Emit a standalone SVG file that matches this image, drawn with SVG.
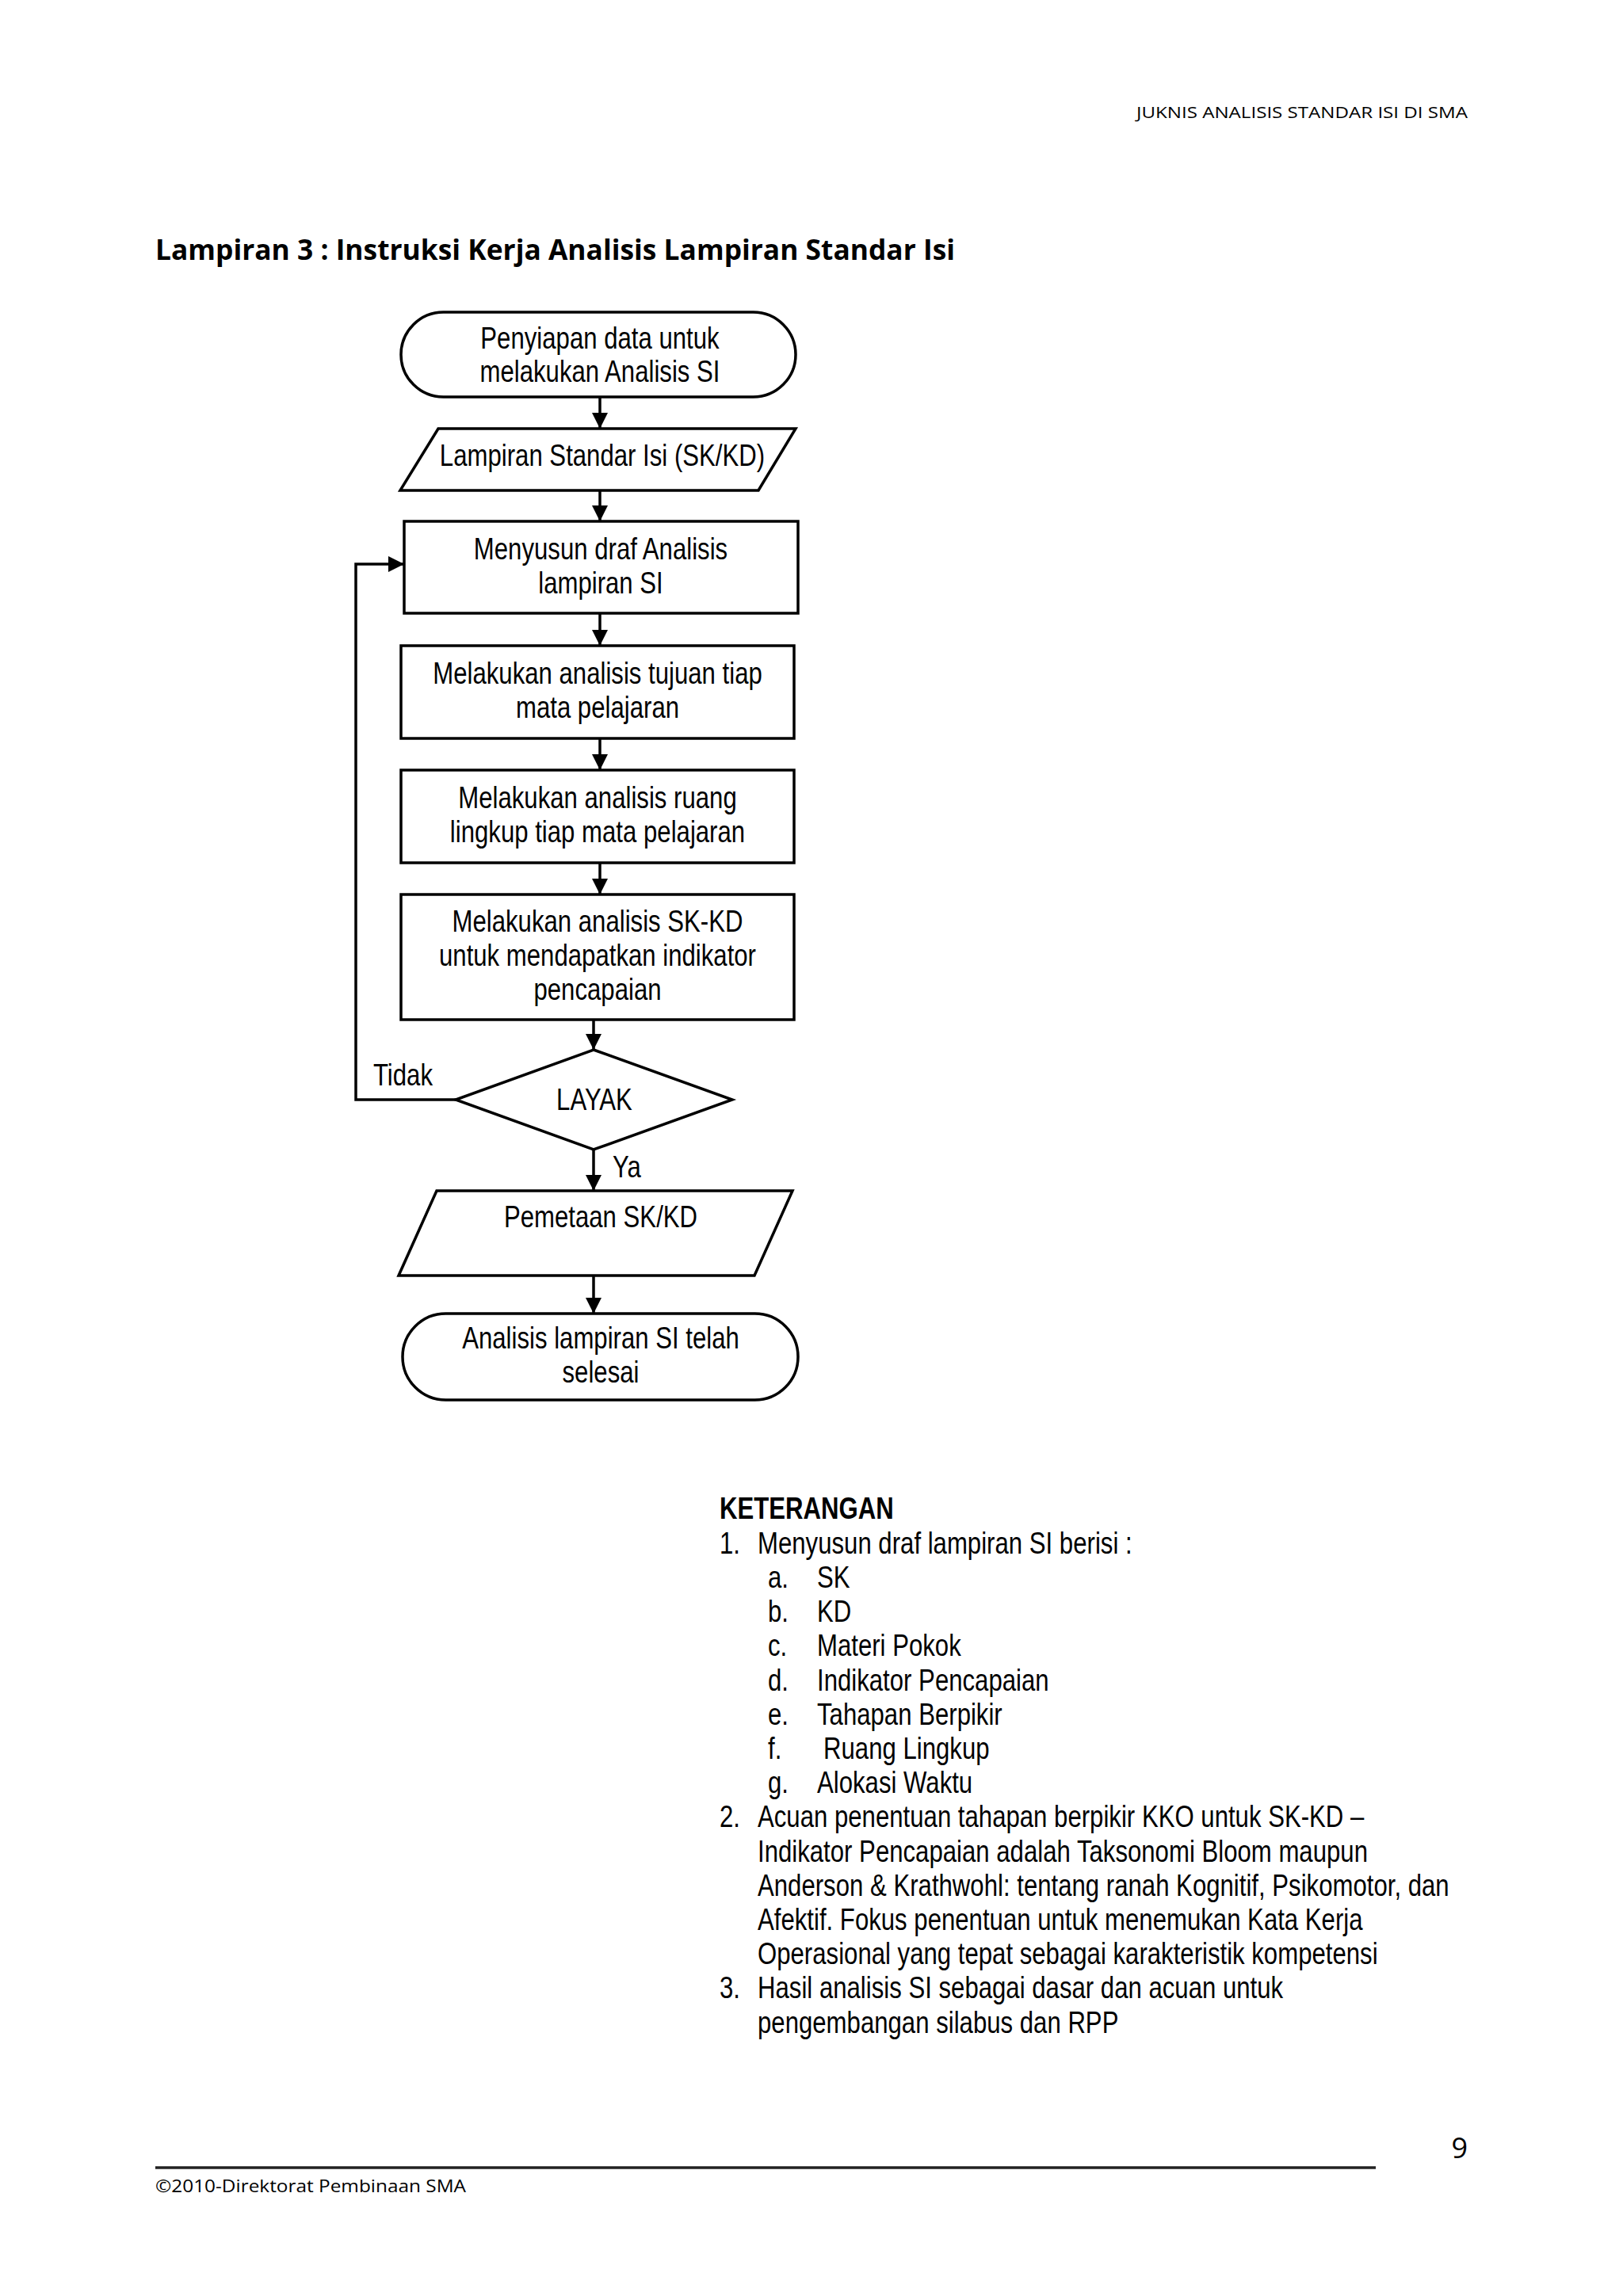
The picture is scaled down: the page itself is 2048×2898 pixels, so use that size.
<svg xmlns="http://www.w3.org/2000/svg" width="2048" height="2898" viewBox="0 0 2048 2898">
<defs>
<style>
.t{font-family:"Liberation Sans",Arial,sans-serif;font-size:38px;fill:#000}
.tb{font-family:"Liberation Sans",Arial,sans-serif;font-size:38px;font-weight:bold;fill:#000}
.c{font-family:"Open Sans","Noto Sans",sans-serif;fill:#000}
.s{fill:#fff;stroke:#000;stroke-width:3.5}
.ln{fill:none;stroke:#000;stroke-width:3.5}
</style>
<marker id="ah" viewBox="0 0 10 10" refX="10" refY="5" markerWidth="22" markerHeight="20" markerUnits="userSpaceOnUse" orient="auto">
<path d="M0,0 L10,5 L0,10 z" fill="#000"/>
</marker>
</defs>
<rect width="2048" height="2898" fill="#fff"/>

<text class="c" x="1852" y="149" font-size="20" text-anchor="end" textLength="418" lengthAdjust="spacingAndGlyphs">JUKNIS ANALISIS STANDAR ISI DI SMA</text>
<text class="c" x="196" y="328" font-size="36" font-weight="bold" textLength="1009" lengthAdjust="spacingAndGlyphs">Lampiran 3 : Instruksi Kerja Analisis Lampiran Standar Isi</text>

<g id="connectors">
<line class="ln" x1="757" y1="501" x2="757" y2="541" marker-end="url(#ah)"/>
<line class="ln" x1="757" y1="619" x2="757" y2="658" marker-end="url(#ah)"/>
<line class="ln" x1="757" y1="774" x2="757" y2="815" marker-end="url(#ah)"/>
<line class="ln" x1="757" y1="932" x2="757" y2="972" marker-end="url(#ah)"/>
<line class="ln" x1="757" y1="1089" x2="757" y2="1129" marker-end="url(#ah)"/>
<line class="ln" x1="749" y1="1287" x2="749" y2="1325" marker-end="url(#ah)"/>
<polyline class="ln" points="575,1388 449,1388 449,712 510,712" marker-end="url(#ah)"/>
<line class="ln" x1="749" y1="1451" x2="749" y2="1503" marker-end="url(#ah)"/>
<line class="ln" x1="749" y1="1610" x2="749" y2="1658" marker-end="url(#ah)"/>
<text class="t" transform="translate(471,1370) scale(0.82,1)">Tidak</text>
<text class="t" transform="translate(773,1486) scale(0.82,1)">Ya</text>
</g>

<g id="start">
<rect class="s" x="506" y="394" width="498" height="107" rx="53.5" ry="53.5"/>
<text class="t" text-anchor="middle" transform="translate(757,440) scale(0.82,1)">Penyiapan data untuk</text>
<text class="t" text-anchor="middle" transform="translate(757,482) scale(0.82,1)">melakukan Analisis SI</text>
</g>

<g id="input1">
<polygon class="s" points="553,541 1004,541 957,619 505,619"/>
<text class="t" text-anchor="middle" transform="translate(760,588) scale(0.82,1)">Lampiran Standar Isi (SK/KD)</text>
</g>

<g id="step1">
<rect class="s" x="510" y="658" width="497" height="116"/>
<text class="t" text-anchor="middle" transform="translate(758,706) scale(0.82,1)">Menyusun draf Analisis</text>
<text class="t" text-anchor="middle" transform="translate(758,749) scale(0.82,1)">lampiran SI</text>
</g>

<g id="step2">
<rect class="s" x="506" y="815" width="496" height="117"/>
<text class="t" text-anchor="middle" transform="translate(754,863) scale(0.82,1)">Melakukan analisis tujuan tiap</text>
<text class="t" text-anchor="middle" transform="translate(754,906) scale(0.82,1)">mata pelajaran</text>
</g>

<g id="step3">
<rect class="s" x="506" y="972" width="496" height="117"/>
<text class="t" text-anchor="middle" transform="translate(754,1020) scale(0.82,1)">Melakukan analisis ruang</text>
<text class="t" text-anchor="middle" transform="translate(754,1063) scale(0.82,1)">lingkup tiap mata pelajaran</text>
</g>

<g id="step4">
<rect class="s" x="506" y="1129" width="496" height="158"/>
<text class="t" text-anchor="middle" transform="translate(754,1176) scale(0.82,1)">Melakukan analisis SK-KD</text>
<text class="t" text-anchor="middle" transform="translate(754,1219) scale(0.82,1)">untuk mendapatkan indikator</text>
<text class="t" text-anchor="middle" transform="translate(754,1262) scale(0.82,1)">pencapaian</text>
</g>

<g id="decision">
<polygon class="s" points="749,1325 924,1388 749,1451 575,1388"/>
<text class="t" text-anchor="middle" transform="translate(750,1401) scale(0.82,1)">LAYAK</text>
</g>

<g id="input2">
<polygon class="s" points="551,1503 1000,1503 952,1610 503,1610"/>
<text class="t" text-anchor="middle" transform="translate(758,1549) scale(0.82,1)">Pemetaan SK/KD</text>
</g>

<g id="end">
<rect class="s" x="508" y="1658" width="499" height="109" rx="54.5" ry="54.5"/>
<text class="t" text-anchor="middle" transform="translate(758,1702) scale(0.82,1)">Analisis lampiran SI telah</text>
<text class="t" text-anchor="middle" transform="translate(758,1745) scale(0.82,1)">selesai</text>
</g>

<g id="keterangan">
<text class="tb" transform="translate(908,1917) scale(0.82,1)">KETERANGAN</text>
<text class="t" transform="translate(908,1961) scale(0.82,1)">1.</text>
<text class="t" transform="translate(956,1961) scale(0.82,1)">Menyusun draf lampiran SI berisi :</text>
<text class="t" transform="translate(969,2004) scale(0.82,1)">a.</text>
<text class="t" transform="translate(1031,2004) scale(0.82,1)">SK</text>
<text class="t" transform="translate(969,2047) scale(0.82,1)">b.</text>
<text class="t" transform="translate(1031,2047) scale(0.82,1)">KD</text>
<text class="t" transform="translate(969,2090) scale(0.82,1)">c.</text>
<text class="t" transform="translate(1031,2090) scale(0.82,1)">Materi Pokok</text>
<text class="t" transform="translate(969,2134) scale(0.82,1)">d.</text>
<text class="t" transform="translate(1031,2134) scale(0.82,1)">Indikator Pencapaian</text>
<text class="t" transform="translate(969,2177) scale(0.82,1)">e.</text>
<text class="t" transform="translate(1031,2177) scale(0.82,1)">Tahapan Berpikir</text>
<text class="t" transform="translate(969,2220) scale(0.82,1)">f.</text>
<text class="t" transform="translate(1039,2220) scale(0.82,1)">Ruang Lingkup</text>
<text class="t" transform="translate(969,2263) scale(0.82,1)">g.</text>
<text class="t" transform="translate(1031,2263) scale(0.82,1)">Alokasi Waktu</text>
<text class="t" transform="translate(908,2306) scale(0.82,1)">2.</text>
<text class="t" transform="translate(956,2306) scale(0.82,1)">Acuan penentuan tahapan berpikir KKO untuk SK-KD –</text>
<text class="t" transform="translate(956,2350) scale(0.82,1)">Indikator Pencapaian adalah Taksonomi Bloom maupun</text>
<text class="t" transform="translate(956,2393) scale(0.82,1)">Anderson &amp; Krathwohl: tentang ranah Kognitif, Psikomotor, dan</text>
<text class="t" transform="translate(956,2436) scale(0.82,1)">Afektif. Fokus penentuan untuk menemukan Kata Kerja</text>
<text class="t" transform="translate(956,2479) scale(0.82,1)">Operasional yang tepat sebagai karakteristik kompetensi</text>
<text class="t" transform="translate(908,2522) scale(0.82,1)">3.</text>
<text class="t" transform="translate(956,2522) scale(0.82,1)">Hasil analisis SI sebagai dasar dan acuan untuk</text>
<text class="t" transform="translate(956,2566) scale(0.82,1)">pengembangan silabus dan RPP</text>
</g>

<text class="c" x="1852" y="2724" font-size="36" text-anchor="end">9</text>
<line x1="196" y1="2736" x2="1736" y2="2736" stroke="#222" stroke-width="3.5"/>
<text class="c" x="196" y="2767" font-size="22" textLength="392" lengthAdjust="spacingAndGlyphs">©2010-Direktorat Pembinaan SMA</text>
</svg>
